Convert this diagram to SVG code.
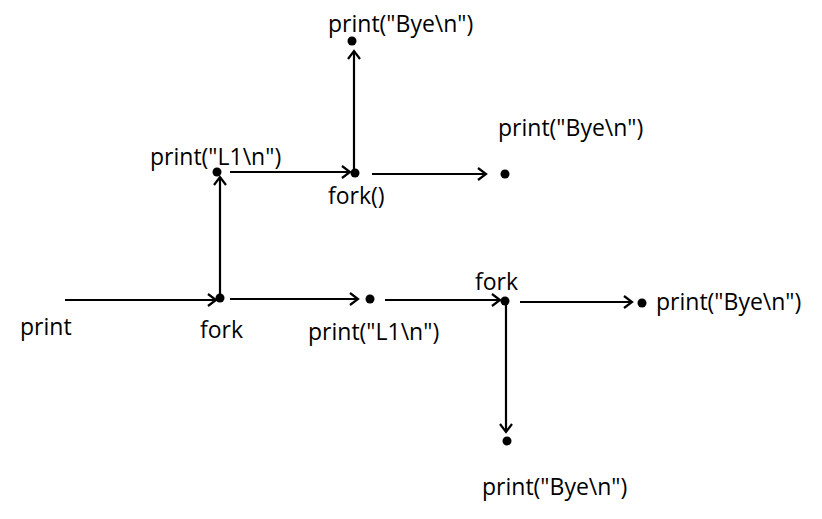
<svg xmlns="http://www.w3.org/2000/svg" width="822" height="519" viewBox="0 0 822 519">
<style>
.l{stroke:#000;stroke-width:2.2;fill:none}
.t{font-family:"Open Sans","Liberation Sans",sans-serif;font-size:23px;fill:#000}
</style>
<defs>
<marker id="a" markerWidth="16" markerHeight="16" refX="10" refY="7" orient="auto" markerUnits="userSpaceOnUse">
<path d="M2,1 L10,7 L2,13" stroke="#000" stroke-width="2.2" fill="none"/>
</marker>
</defs>
<rect width="822" height="519" fill="#fff"/>
<g id="connectors">
<path class="l" d="M65,300 H216" marker-end="url(#a)"/>
<path class="l" d="M220,298 V177" marker-end="url(#a)"/>
<path class="l" d="M230,172 H350" marker-end="url(#a)"/>
<path class="l" d="M354,170 V51" marker-end="url(#a)"/>
<path class="l" d="M372,174 H486" marker-end="url(#a)"/>
<path class="l" d="M230,299 H358" marker-end="url(#a)"/>
<path class="l" d="M385,300 H500" marker-end="url(#a)"/>
<path class="l" d="M520,302 H632" marker-end="url(#a)"/>
<path class="l" d="M506,302 V432" marker-end="url(#a)"/>
</g>
<g id="n1"><text class="t" x="20" y="335">print</text></g>
<g id="n2"><circle cx="220" cy="298" r="4.5"/><text class="t" x="200" y="338">fork</text></g>
<g id="n3"><circle cx="217" cy="172" r="4.5"/><text class="t" x="150" y="165">print("L1\n")</text></g>
<g id="n4"><circle cx="355" cy="173" r="4.5"/><text class="t" x="328" y="204">fork()</text></g>
<g id="n5"><circle cx="352" cy="41" r="4.5"/><text class="t" x="328" y="32">print("Bye\n")</text></g>
<g id="n6"><circle cx="505" cy="174" r="4.5"/><text class="t" x="498" y="136">print("Bye\n")</text></g>
<g id="n7"><circle cx="370" cy="299" r="4.5"/><text class="t" x="308" y="340">print("L1\n")</text></g>
<g id="n8"><circle cx="505" cy="301" r="4.5"/><text class="t" x="475" y="290">fork</text></g>
<g id="n9"><circle cx="642" cy="303" r="4.5"/><text class="t" x="656" y="310">print("Bye\n")</text></g>
<g id="n10"><circle cx="507" cy="441" r="4.5"/><text class="t" x="482" y="495">print("Bye\n")</text></g>
</svg>
